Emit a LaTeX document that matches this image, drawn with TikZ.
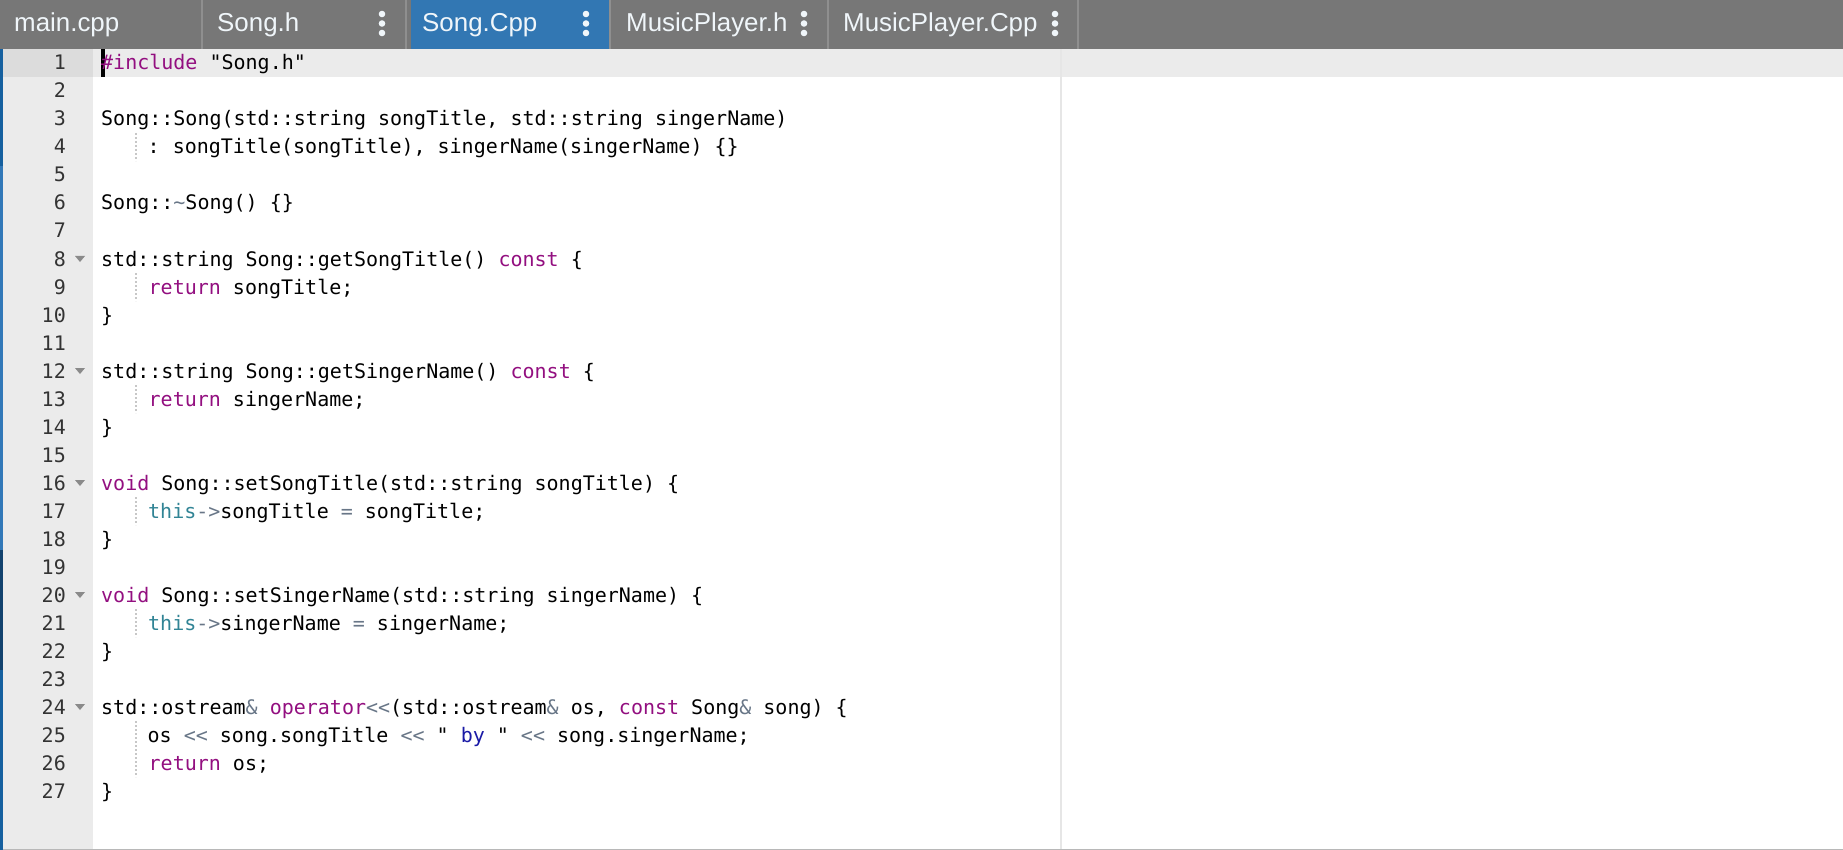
\documentclass[tikz,border=0pt]{standalone}
\usepackage{fontspec}
\setmainfont{Liberation Sans}
\newfontfamily\codefont{DejaVu Sans Mono}
\definecolor{tabgray}{HTML}{777777}
\definecolor{tabline}{HTML}{8F8F8F}
\definecolor{tabblue}{HTML}{3277B3}
\definecolor{tabtext}{HTML}{F0F6FA}
\definecolor{gutter}{HTML}{EBEBEB}
\definecolor{gutteractive}{HTML}{DCDCDC}
\definecolor{margingray}{HTML}{E6E6E6}
\definecolor{numgray}{HTML}{333333}
\definecolor{foldgray}{HTML}{8A8A8A}
\definecolor{keyword}{HTML}{930F80}
\definecolor{thisteal}{HTML}{318495}
\definecolor{opgray}{HTML}{687687}
\definecolor{strblue}{HTML}{1A1AA6}
\definecolor{stripdark}{HTML}{16609F}
\definecolor{stripmid}{HTML}{3278B8}
\definecolor{stripnavy}{HTML}{12426E}
\def\kw#1{\textcolor{keyword}{#1}}
\def\op#1{\textcolor{opgray}{#1}}
\def\tabdots(#1){\fill[tabtext] (#1, 14) circle (3.3) (#1, 23.5) circle (3.3) (#1, 33) circle (3.3);}
\tikzset{
	tablabel/.style={anchor=base west, inner sep=0, text=tabtext, font=\fontsize{25.9}{30}\selectfont},
	lineno/.style={anchor=base east, inner sep=0, text=numgray, font=\codefont\fontsize{20}{24}\selectfont},
	codeline/.style={anchor=base west, inner sep=0, text=black, font=\codefont\fontsize{20}{24}\selectfont},
	guide/.style={draw=black!22, line width=1.2, dash pattern=on 2 off 2}
}

\begin{document}
\begin{tikzpicture}[x=1pt, y=-1pt]
		%%%%% START %%%%%
		\useasboundingbox (0, 0) rectangle (1843, 850);
		\fill[white] (0, 0) rectangle (1843, 850);
		
		% gutter and current line
		\fill[gutter] (3, 49) rectangle (93, 850);
		\fill[gutter] (93, 49) rectangle (1843, 77);
		\fill[gutteractive] (3, 49) rectangle (93, 77);
		\draw[margingray, line width=1.5] (1061, 49) -- (1061, 850);
		\draw[black!28, line width=1.5] (0, 849.5) -- (1843, 849.5);
		
		% strip at the left edge
		\fill[stripdark] (0, 49) rectangle (3, 166);
		\fill[stripmid] (0, 166) rectangle (3, 550);
		\fill[stripnavy] (0, 550) rectangle (3, 670);
		\fill[stripdark] (0, 670) rectangle (3, 850);
		
		% tab bar
		\fill[tabgray] (0, 0) rectangle (1843, 49);
		\fill[tabblue] (411, 0) rectangle (609, 49);
		\foreach \x in {202, 406, 610, 828, 1078}
			\draw[tabline, line width=1.5] (\x, 0) -- (\x, 49);
		\node[tablabel] (tabMain) at (14, 32) {main.cpp};
		\node[tablabel] (tabSongH) at (217, 32) {Song.h};
		\node[tablabel] (tabSongCpp) at (422, 32) {Song.Cpp};
		\node[tablabel] (tabPlayerH) at (626, 32) {MusicPlayer.h};
		\node[tablabel] (tabPlayerCpp) at (843, 32) {MusicPlayer.Cpp};
		\tabdots(382)
		\tabdots(586)
		\tabdots(804)
		\tabdots(1055)
		
		% line numbers
		\foreach \n in {1,...,27}
			\node[lineno] (num\n) at (66, {70+28*(\n-1)}) {\n};
		\foreach \n in {8, 12, 16, 20, 24}
			\fill[foldgray] (75, {60+28*(\n-1)}) -- (85, {60+28*(\n-1)}) -- (80, {66+28*(\n-1)}) -- cycle;
		
		% indent guides
		\foreach \a/\b in {4/4, 9/9, 13/13, 17/17, 21/21, 25/26}
			\draw[guide] (136, {49+28*(\a-1)}) -- (136, {49+28*\b});
		
		% cursor
		\fill[black] (101, 49) rectangle (104.5, 77);
		
		% code
		\node[codeline] (line1) at (101, 70) {\kw{\#include} "Song.h"};
		\node[codeline] (line3) at (101, 126) {Song::Song(std::string songTitle, std::string singerName)};
		\node[codeline] (line4) at (147.5, 154) {:\hspace{-3pt} songTitle(songTitle), singerName(singerName) \{\}};
		\node[codeline] (line6) at (101, 210) {Song::\op{\char`\~}Song() \{\}};
		\node[codeline] (line8) at (101, 266) {std::string Song::getSongTitle() \kw{const} \{};
		\node[codeline] (line9) at (148.5, 294) {\kw{return} songTitle;};
		\node[codeline] (line10) at (101, 322) {\}};
		\node[codeline] (line12) at (101, 378) {std::string Song::getSingerName() \kw{const} \{};
		\node[codeline] (line13) at (148.5, 406) {\kw{return} singerName;};
		\node[codeline] (line14) at (101, 434) {\}};
		\node[codeline] (line16) at (101, 490) {\kw{void} Song::setSongTitle(std::string songTitle) \{};
		\node[codeline] (line17) at (148, 518) {\textcolor{thisteal}{this}\op{->}songTitle \op{=} songTitle;};
		\node[codeline] (line18) at (101, 546) {\}};
		\node[codeline] (line20) at (101, 602) {\kw{void} Song::setSingerName(std::string singerName) \{};
		\node[codeline] (line21) at (148, 630) {\textcolor{thisteal}{this}\op{->}singerName \op{=} singerName;};
		\node[codeline] (line22) at (101, 658) {\}};
		\node[codeline] (line24) at (101, 714) {std::ostream\op{\&} \kw{operator}\op{<<}(std::ostream\op{\&} os, \kw{const} Song\op{\&} song) \{};
		\node[codeline] (line25) at (147.5, 742) {os \op{<<} song.songTitle \op{<<} " \textcolor{strblue}{by} " \op{<<} song.singerName;};
		\node[codeline] (line26) at (148.5, 770) {\kw{return} os;};
		\node[codeline] (line27) at (101, 798) {\}};
		%%%%% END %%%%%
	\end{tikzpicture}
\end{document}
